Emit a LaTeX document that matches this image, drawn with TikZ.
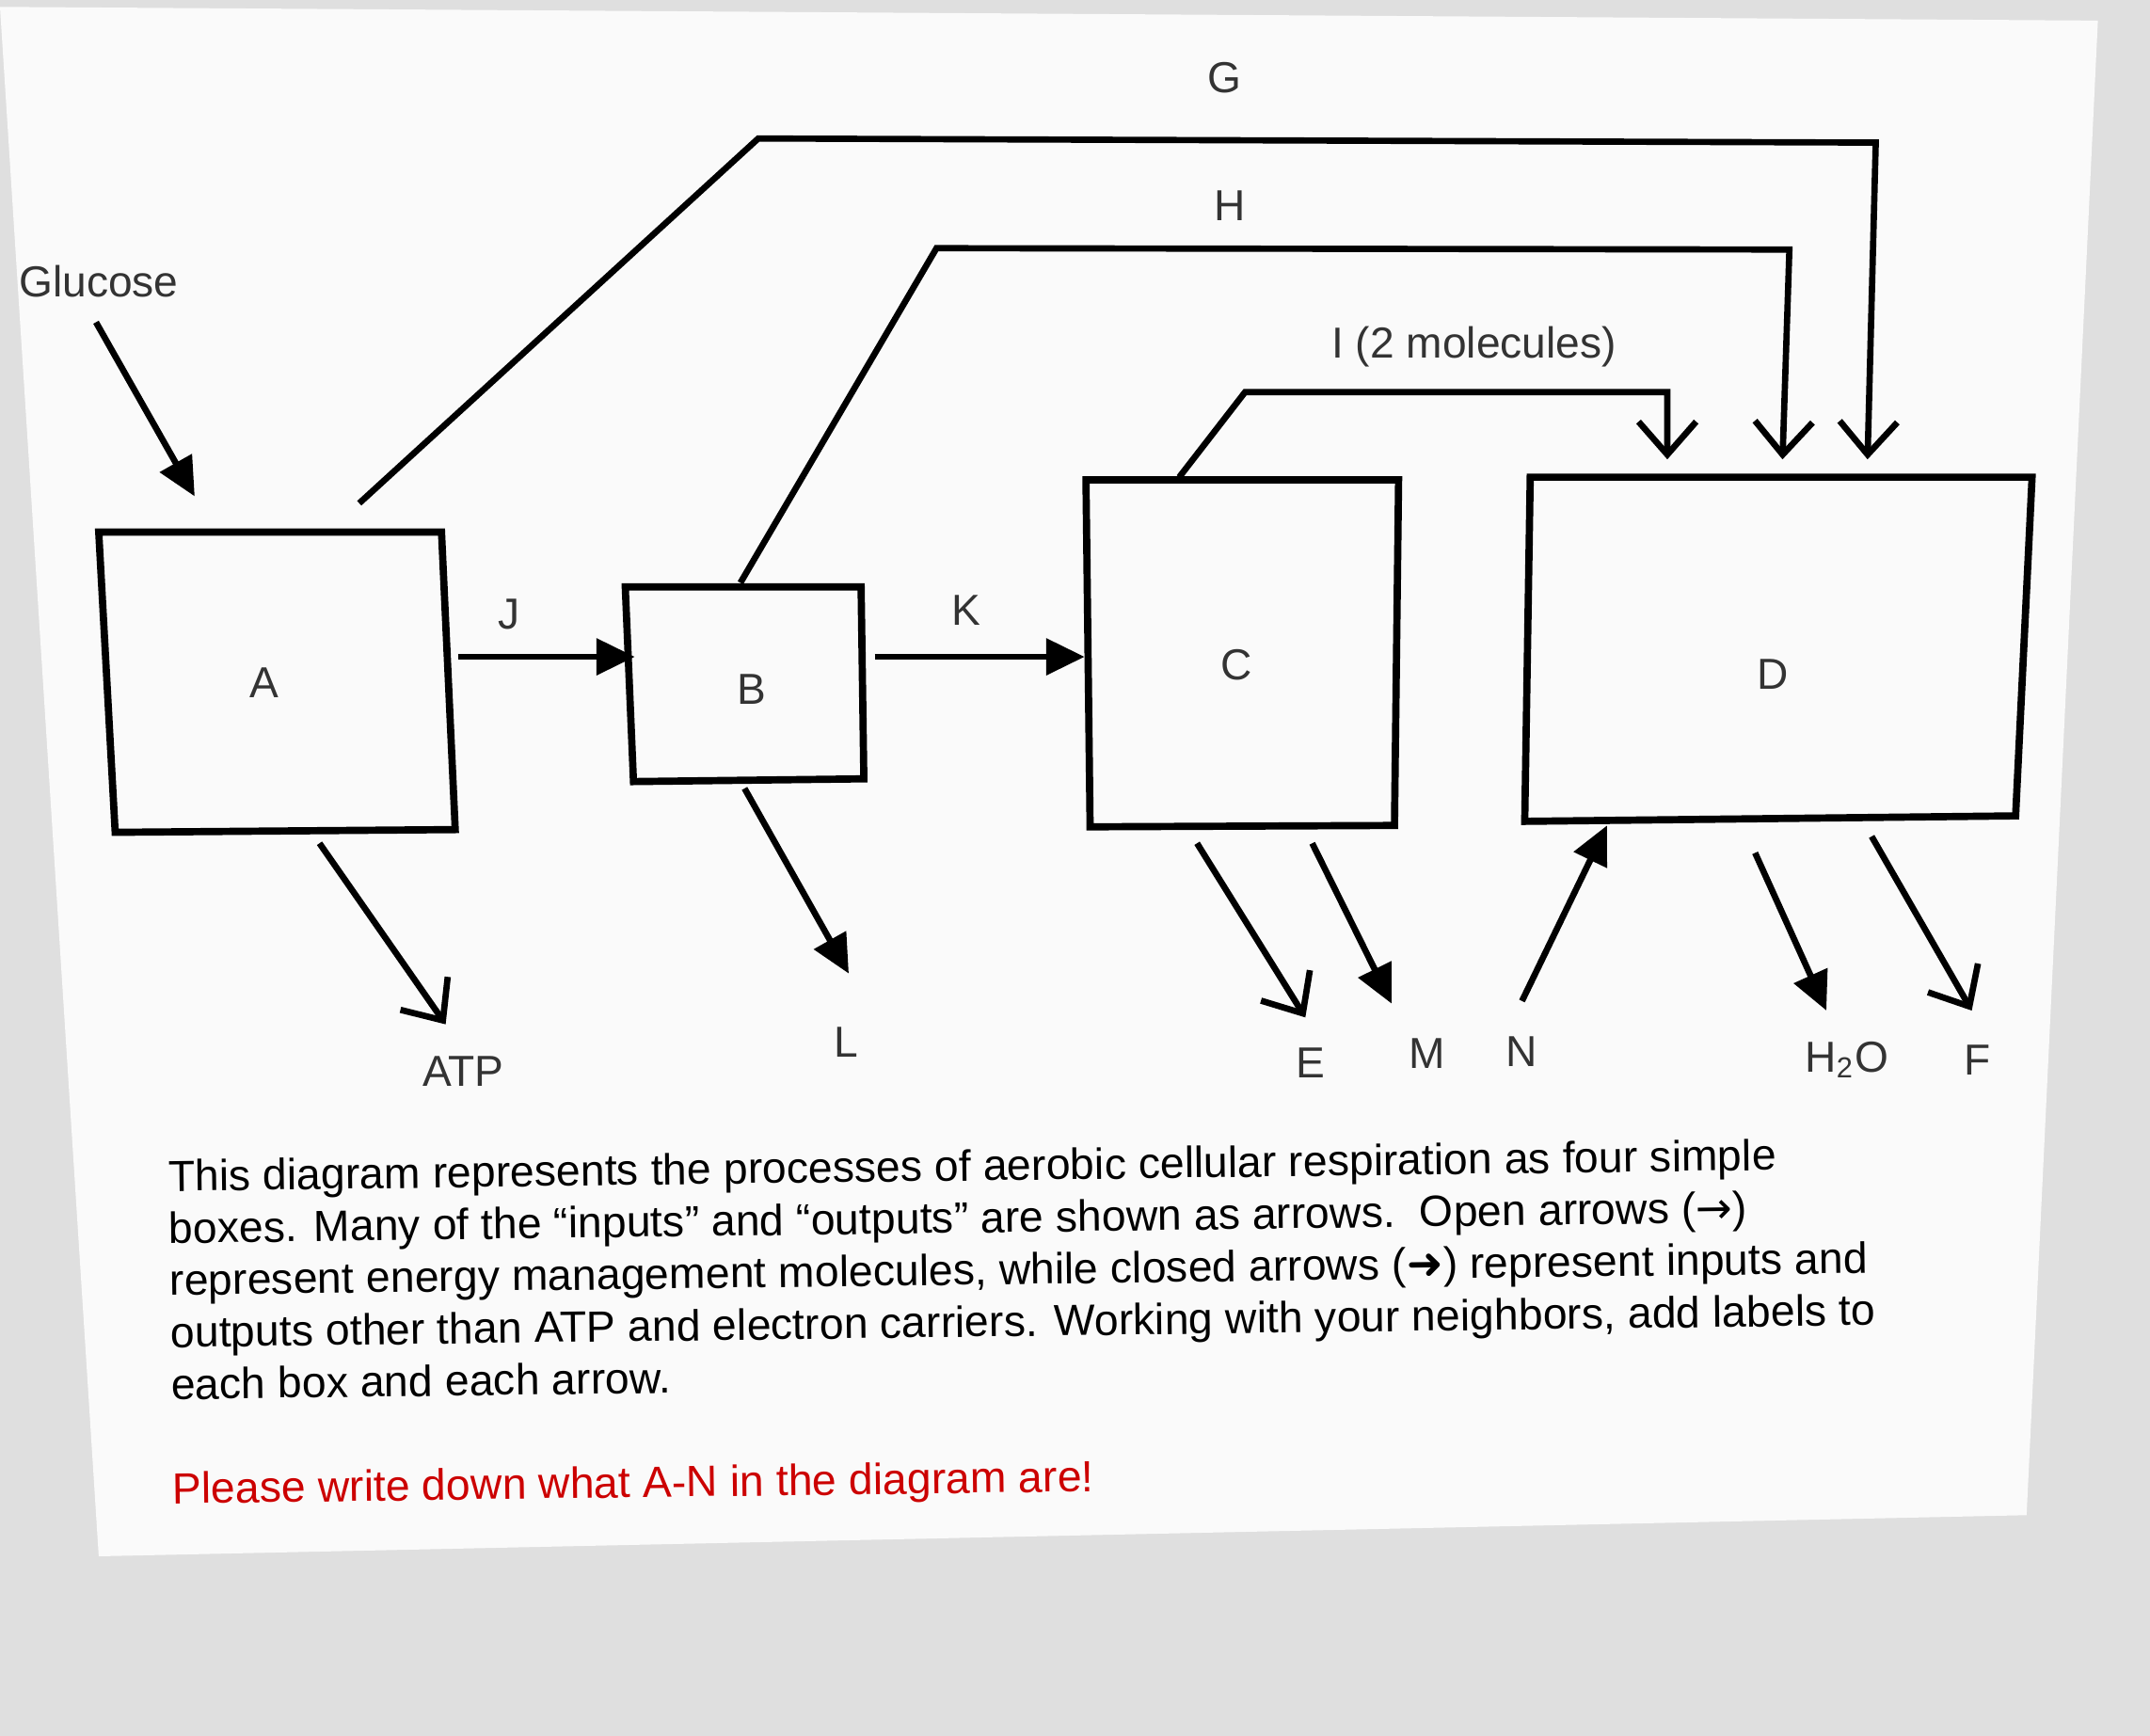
\documentclass[tikz,border=0pt]{standalone}
\usepackage{fontspec}
\setmainfont{Liberation Sans}
\newfontfamily\symf{DejaVu Sans}
\usetikzlibrary{arrows.meta}
\begin{document}
\begin{tikzpicture}[x=0.01cm,y=-0.01cm,
  ln/.style={line width=1.3pt,line join=miter},
  boxq/.style={line width=1.5pt},
  closedarr/.style={ln,-{Triangle[length=2.8mm,width=2.6mm]}},
  openarr/.style={ln,-{Straight Barb[length=2.4mm,width=4.2mm,line width=1.3pt]}},
  lbl/.style={font=\fontsize{9}{10}\selectfont,text=black!80},
  para/.style={font=\fontsize{9.05}{10.8}\selectfont,anchor=north west,align=left,rotate=0.75,inner sep=0}]
\useasboundingbox (0,0) rectangle (1568,1266);
\fill[gray!25] (0,0) rectangle (1568,1266);
\fill[gray!4] (0,5) -- (1530,15) -- (1478,1105) -- (72,1135) -- cycle;
% boxes
\draw[boxq] (72,388) -- (322,388) -- (332,605) -- (84,607) -- cycle;
\draw[boxq] (456,428) -- (628,428) -- (630,568) -- (462,570) -- cycle;
\draw[boxq] (792,350) -- (1020,350) -- (1017,602) -- (795,603) -- cycle;
\draw[boxq] (1116,348) -- (1482,348) -- (1470,595) -- (1112,599) -- cycle;
\node[lbl] (A) at (193,498) {A};
\node[lbl] (B) at (548,503) {B};
\node[lbl] (C) at (902,485) {C};
\node[lbl] (D) at (1293,492) {D};
% top lines
\coordinate (g0) at (262,367); \coordinate (g1) at (1362,335);
\draw[openarr] (g0) -- (553,101) -- (1368,104) -- (g1);
\coordinate (h0) at (540,425); \coordinate (h1) at (1300,335);
\draw[openarr] (h0) -- (683,181) -- (1305,182) -- (h1);
\coordinate (i0) at (860,348); \coordinate (i1) at (1216,335);
\draw[openarr] (i0) -- (908,286) -- (1216,286) -- (i1);
\node[lbl] (G) at (893,57) {G};
\node[lbl] (H) at (897,150) {H};
\node[lbl] (I) at (1075,253) {I (2 molecules)};
% glucose
\node[lbl] (glu) at (72,205) {Glucose};
\coordinate (gs) at (70,235); \coordinate (ge) at (142,362);
\draw[closedarr] (gs) -- (ge);
% J K
\coordinate (j0) at (334,479); \coordinate (j1) at (463,479);
\draw[closedarr] (j0) -- (j1);
\node[lbl] (J) at (371,448) {J};
\coordinate (k0) at (638,479); \coordinate (k1) at (791,479);
\draw[closedarr] (k0) -- (k1);
\node[lbl] (K) at (705,445) {K};
% outputs
\coordinate (a0) at (233,615); \coordinate (a1) at (325,747);
\draw[openarr] (a0) -- (a1);
\node[lbl] (ATP) at (338,781) {ATP};
\coordinate (l0) at (543,575); \coordinate (l1) at (619,710);
\draw[closedarr] (l0) -- (l1);
\node[lbl] (L) at (617,760) {L};
\coordinate (e0) at (873,615); \coordinate (e1) at (952,742);
\draw[openarr] (e0) -- (e1);
\node[lbl] (E) at (956,775) {E};
\coordinate (m0) at (957,615); \coordinate (m1) at (1015,732);
\draw[closedarr] (m0) -- (m1);
\node[lbl] (M) at (1041,768) {M};
\coordinate (n0) at (1110,730); \coordinate (n1) at (1172,602);
\draw[closedarr] (n0) -- (n1);
\node[lbl] (N) at (1110,767) {N};
\coordinate (w0) at (1280,622); \coordinate (w1) at (1332,737);
\draw[closedarr] (w0) -- (w1);
\node[lbl] (W) at (1347,773) {H\textsubscript{2}O};
\coordinate (f0) at (1365,610); \coordinate (f1) at (1438,737);
\draw[openarr] (f0) -- (f1);
\node[lbl] (F) at (1442,773) {F};
% paragraph
\node[para] (par) at (122,845) {This diagram represents the processes of aerobic cellular respiration as four simple\\
boxes. Many of the “inputs” and “outputs” are shown as arrows.\ \ Open arrows ({\symf →})\\
represent energy management molecules, while closed arrows ({\symf ➜}) represent inputs and\\
outputs other than ATP and electron carriers. Working with your neighbors, add labels to\\
each box and each arrow.\\[10.8pt]
\textcolor{red!80!black}{Please write down what A-N in the diagram are!}};
\end{tikzpicture}
\end{document}
